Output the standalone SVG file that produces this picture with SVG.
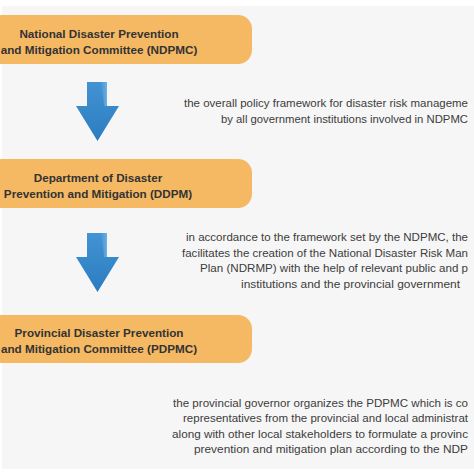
<svg xmlns="http://www.w3.org/2000/svg" width="474" height="474" viewBox="0 0 474 474">
<defs>
<style>
.box{fill:#f5b964;}
.title{font-family:"Liberation Sans",Arial,sans-serif;font-weight:bold;font-size:11.7px;fill:#333;text-anchor:middle;}
.desc{font-family:"Liberation Sans",Arial,sans-serif;font-size:12px;fill:#3c3c3c;}
.edge{font-size:11.2px;}
.arrow{fill:url(#ag);}
</style>
<linearGradient id="ag" x1="0" y1="0" x2="0" y2="1">
<stop offset="0" stop-color="#4393d3"/>
<stop offset="1" stop-color="#2b7dc0"/>
</linearGradient>
<linearGradient id="hl" x1="0" y1="0" x2="1" y2="0">
<stop offset="0" stop-color="#6fb0e4" stop-opacity="0"/>
<stop offset="1" stop-color="#7ab8e8" stop-opacity="0.8"/>
</linearGradient>
</defs>
<rect x="0" y="0" width="474" height="474" fill="#ffffff"/>
<rect x="2" y="6" width="472" height="463" fill="#f6f6f6"/>

<g id="node-ndpmc">
<rect class="box" x="-60" y="15" width="312" height="49" rx="14"/>
<text class="title" x="99" y="37.5">National Disaster Prevention</text>
<text class="title" x="99" y="53.5">and Mitigation Committee (NDPMC)</text>
</g>

<g id="node-ddpm">
<rect class="box" x="-60" y="159" width="312" height="49" rx="14"/>
<text class="title" x="98" y="181.5">Department of Disaster</text>
<text class="title" x="98" y="197.5">Prevention and Mitigation (DDPM)</text>
</g>

<g id="node-pdpmc">
<rect class="box" x="-60" y="315" width="312" height="48" rx="14"/>
<text class="title" x="99" y="337">Provincial Disaster Prevention</text>
<text class="title" x="99" y="353">and Mitigation Committee (PDPMC)</text>
</g>

<g id="connectors">
<polygon class="arrow" points="87,82 107,82 107,106 119,106 97.5,141 76,106 87,106"/>
<path d="M100,82 L107,82 L107,106 L104,106 Q103,92 100,82 Z" fill="url(#hl)"/>
<polygon class="arrow" points="87,233 107,233 107,257 119,257 97.5,292 76,257 87,257"/>
<path d="M100,233 L107,233 L107,257 L104,257 Q103,243 100,233 Z" fill="url(#hl)"/>
</g>

<g id="desc-1">
<text class="desc edge" x="184" y="107" textLength="284" lengthAdjust="spacingAndGlyphs">the overall policy framework for disaster risk manageme</text>
<text class="desc edge" x="221" y="123" textLength="247" lengthAdjust="spacingAndGlyphs">by all government institutions involved in NDPMC</text>
</g>

<g id="desc-2">
<text class="desc edge" x="186" y="241" textLength="282" lengthAdjust="spacingAndGlyphs">in accordance to the framework set by the NDPMC, the</text>
<text class="desc edge" x="182" y="256.5" textLength="286" lengthAdjust="spacingAndGlyphs">facilitates the creation of the National Disaster Risk Man</text>
<text class="desc edge" x="200" y="272" textLength="268" lengthAdjust="spacingAndGlyphs">Plan (NDRMP) with the help of relevant public and p</text>
<text class="desc edge" x="241" y="287.5" textLength="219" lengthAdjust="spacingAndGlyphs">institutions and the provincial government</text>
</g>

<g id="desc-3">
<text class="desc edge" x="173" y="407" textLength="295" lengthAdjust="spacingAndGlyphs">the provincial governor organizes the PDPMC which is co</text>
<text class="desc edge" x="183" y="422" textLength="285" lengthAdjust="spacingAndGlyphs">representatives from the provincial and local administrat</text>
<text class="desc edge" x="172" y="437.5" textLength="296" lengthAdjust="spacingAndGlyphs">along with other local stakeholders to formulate a provinc</text>
<text class="desc edge" x="194" y="453" textLength="274" lengthAdjust="spacingAndGlyphs">prevention and mitigation plan according to the NDP</text>
</g>
</svg>
